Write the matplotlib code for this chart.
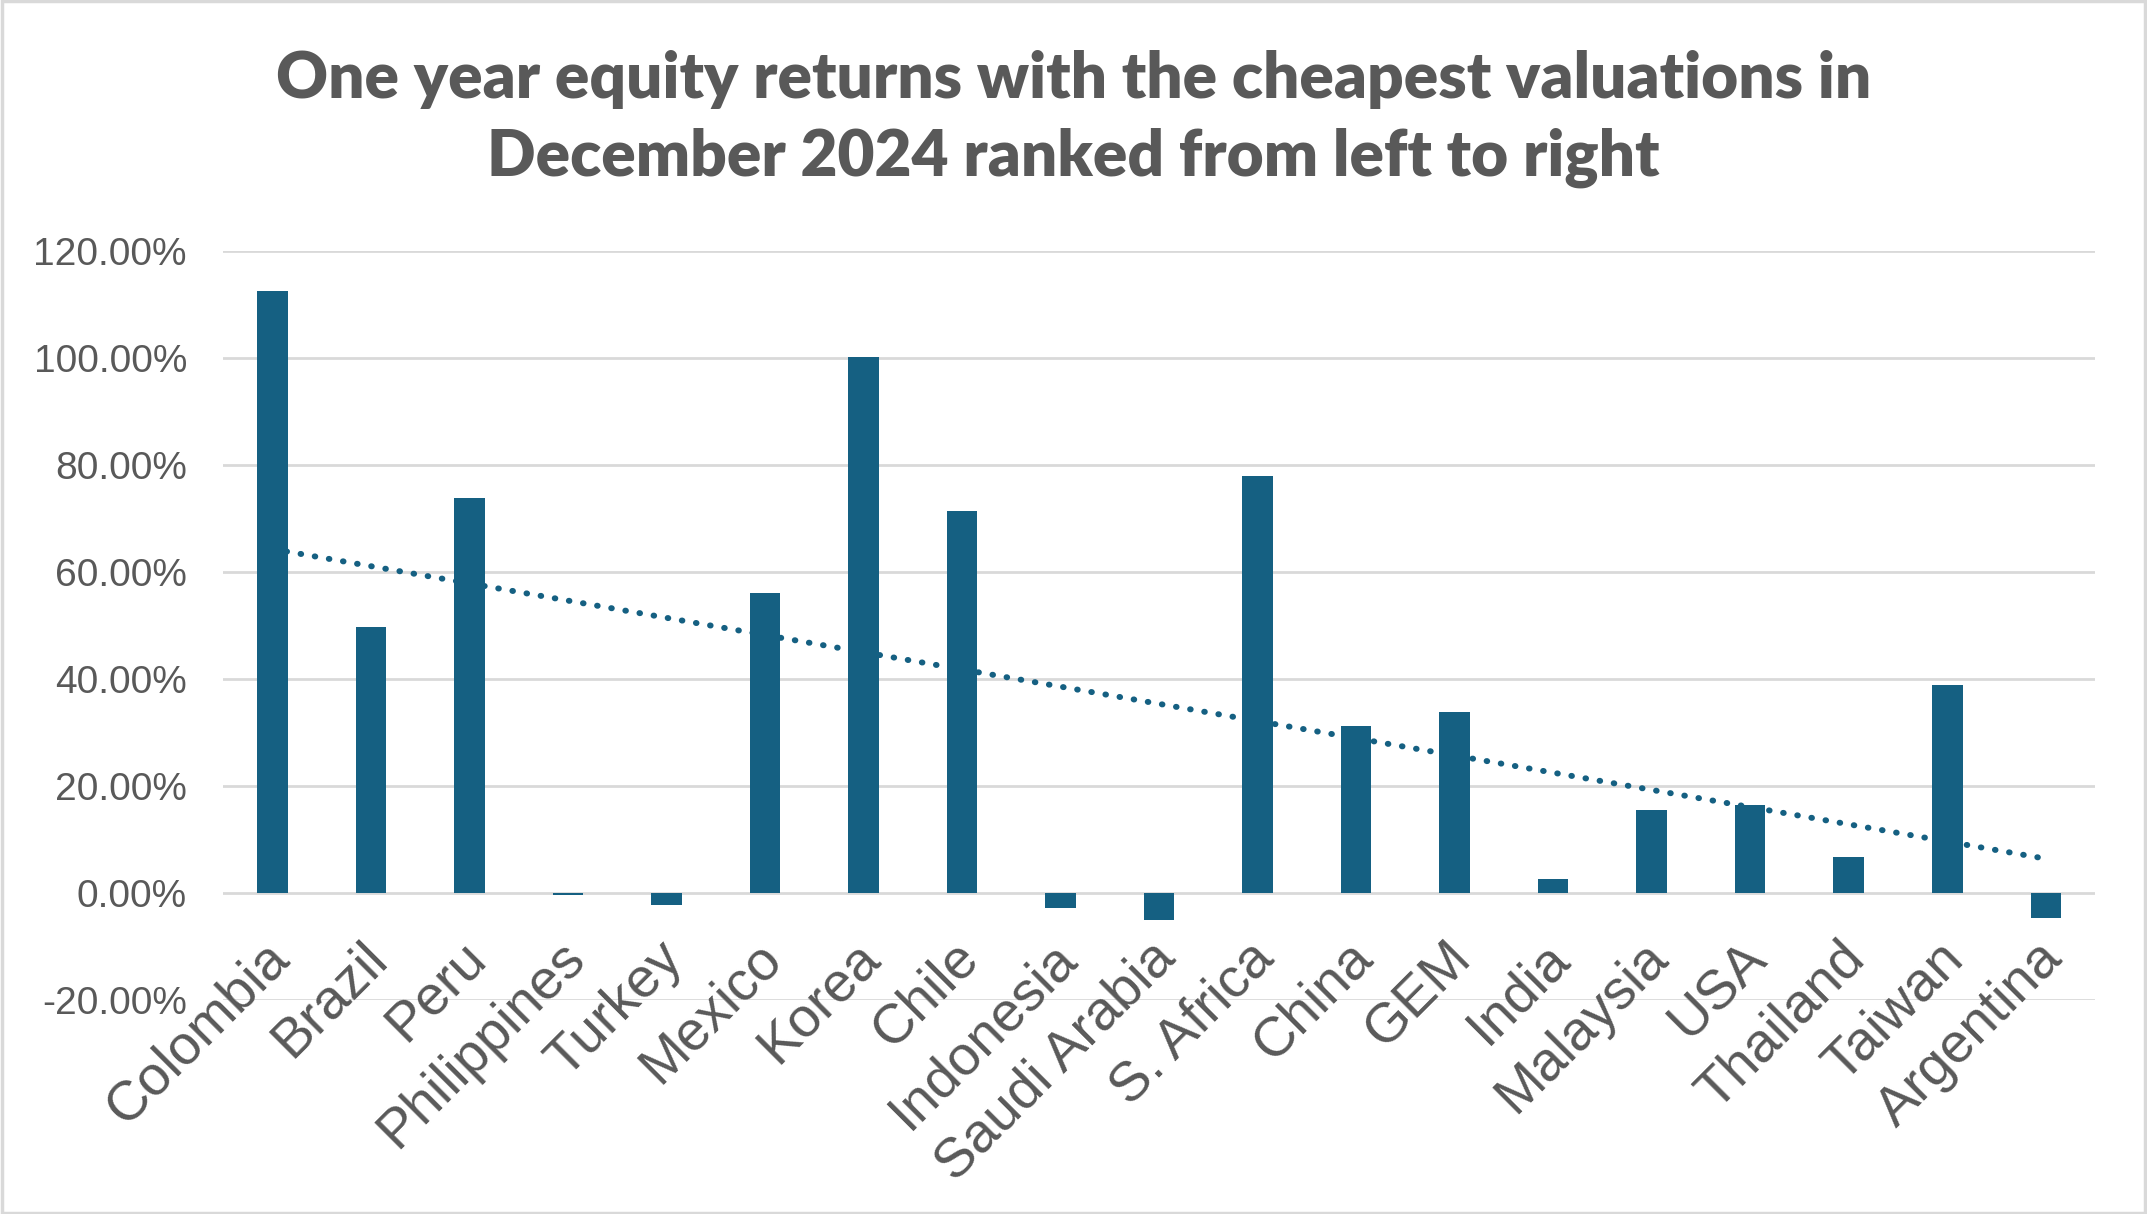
import matplotlib
matplotlib.use("Agg")
import matplotlib.pyplot as plt
import numpy as np
from matplotlib.patches import Rectangle
from matplotlib.ticker import FuncFormatter, MultipleLocator

# data (percent)
countries = ['Colombia', 'Brazil', 'Peru', 'Philippines', 'Turkey', 'Mexico',
             'Korea', 'Chile', 'Indonesia', 'Saudi Arabia', 'S. Africa',
             'China', 'GEM', 'India', 'Malaysia', 'USA', 'Thailand',
             'Taiwan', 'Argentina']
returns = [112.4, 49.7, 73.7, -0.3, -2.3, 56.1, 100.1, 71.4, -2.8, -5.1,
           77.8, 31.2, 33.8, 2.6, 15.4, 16.4, 6.7, 38.9, -4.6]
title = ('One year equity returns with the cheapest valuations in\n'
         'December 2024 ranked from left to right')

BAR_COLOR = '#156082'
TEXT_COLOR = '#595959'
GRID_COLOR = '#D9D9D9'

plt.rcParams['font.family'] = ['Liberation Sans', 'DejaVu Sans']

fig = plt.figure(figsize=(21.47, 12.14), dpi=100)
ax = fig.add_axes([0.1039, 0.1763, 0.8719, 0.6173])

x = np.arange(len(countries))
ax.bar(x, returns, width=0.31, color=BAR_COLOR, zorder=3)

# linear trendline, drawn behind bars like Excel does
coef = np.polyfit(x, returns, 1)
ax.plot(x, np.polyval(coef, x), color=BAR_COLOR, lw=4.3,
        linestyle=(0, (0.1, 2.3)), dash_capstyle='round', zorder=2)

ax.set_xlim(-0.5, len(countries) - 0.5)
ax.set_ylim(-20, 120)
ax.yaxis.set_major_locator(MultipleLocator(20))
ax.yaxis.set_major_formatter(FuncFormatter(lambda v, p: '{:.2f}%'.format(v)))
ax.grid(axis='y', color=GRID_COLOR, lw=2, zorder=0)
ax.set_axisbelow(True)
for s in ax.spines.values():
    s.set_visible(False)
ax.tick_params(axis='y', length=0, pad=26, labelsize=28, labelcolor=TEXT_COLOR)
ax.set_xticks([])

# category labels hang just under the zero line
for i, name in enumerate(countries):
    ax.annotate(name, xy=(i, 0), xytext=(-7, -28), textcoords='offset points',
                rotation=45, ha='right', va='top', rotation_mode='anchor',
                fontsize=40, color=TEXT_COLOR, annotation_clip=False)

fig.text(0.5, 0.902, title, ha='center', va='center', fontsize=46,
         fontweight='heavy', color=TEXT_COLOR, family=['Lato', 'DejaVu Sans'],
         linespacing=1.4)

fig.patches.append(Rectangle((0.001, 0.001), 0.998, 0.998,
                             transform=fig.transFigure, fill=False,
                             edgecolor=GRID_COLOR, lw=2.5))

fig.savefig('out.png', dpi=100, facecolor='white')
